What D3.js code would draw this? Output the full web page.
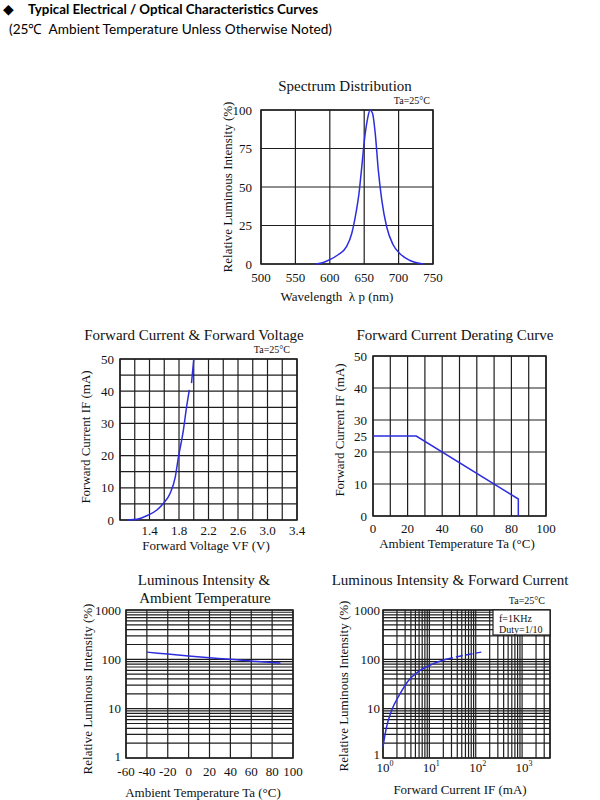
<!DOCTYPE html>
<html><head><meta charset="utf-8">
<script src="https://cdn.jsdelivr.net/npm/d3@7"></script>
<style>body{margin:0;background:#fff}svg{display:block}</style>
</head><body>
<script>
// ---------- DATA ----------
const spectrumWavelength = [580, 590.6, 600, 612, 624.5, 632, 638, 642.5, 646, 651, 655, 658.5, 662, 666, 670.5, 675.5, 682.7, 692, 702, 716.6, 736];
const spectrumIntensity  = [0, 1, 2.8, 6, 11.4, 20, 33, 46, 61, 83, 94.6, 100, 98, 85, 61, 41.7, 24, 12.5, 6.7, 2.3, 0];
const spectrumXTicks = [500, 550, 600, 650, 700, 750];
const spectrumYTicks = [0, 25, 50, 75, 100];

const ifvVoltage = [1.11, 1.23, 1.38, 1.50, 1.59, 1.68, 1.75, 1.79, 1.86, 1.90, 1.94, 1.96, 1.97, 2.00];
const ifvCurrent = [0, 0.2, 1.5, 3.1, 5.2, 8.3, 13.4, 19.2, 28, 34.7, 40.4, null, 42.5, 50];
const ifvXTicks = [1.4, 1.8, 2.2, 2.6, 3.0, 3.4];
const ifvYTicks = [0, 10, 20, 30, 40, 50];

const deratingTemp = [0, 25, 84, 84];
const deratingCurrent = [25, 25, 5.3, 0];
const deratingXTicks = [0, 20, 40, 60, 80, 100];
const deratingYTicks = [0, 10, 20, 25, 30, 40, 50];

const litTemp = [-40, -20, 0, 20, 40, 60, 80, 88];
const litIntensity = [140, 128, 117, 108, 100, 92, 86, 84];
const litXTicks = [-60, -40, -20, 0, 20, 40, 60, 80, 100];
const logYTicks = [1, 10, 100, 1000];

const lifCurrentSolid = [1, 1.18, 1.51, 2.29, 3.46, 6.2, 12, 23];
const lifIntensitySolid = [1.7, 4.07, 8.9, 19.4, 36, 59, 81, 100];
const lifCurrentDashed = [23, 45, 132];
const lifIntensityDashed = [100, 116, 140];
const lifXTickExp = [0, 1, 2, 3];

// ---------- STYLE ----------
const SERIF = "'Liberation Serif','Times New Roman',serif";
const BLUE = "#2d2de0";
const GRID = "#1e1e1e";
const NB = "\u00a0";

const svg = d3.select("body").append("svg").attr("width", 600).attr("height", 800);

// header
svg.append("text").attr("x", 3).attr("y", 14).attr("font-family", "DejaVu Sans").attr("font-size", 14).text("◆");
svg.append("text").attr("x", 28).attr("y", 14).attr("font-family", "Lato").attr("font-weight", "bold")
  .attr("font-size", 13.5).attr("textLength", 290).attr("lengthAdjust", "spacingAndGlyphs")
  .text("Typical Electrical / Optical Characteristics Curves");
svg.append("text").attr("x", 9).attr("y", 34).attr("font-family", "Lato")
  .attr("font-size", 14).attr("textLength", 323).attr("lengthAdjust", "spacingAndGlyphs")
  .text("(25℃" + NB + NB + "Ambient Temperature Unless Otherwise Noted)");

function txt(x, y, s, size, anchor) {
  return svg.append("text").attr("x", x).attr("y", y).attr("font-family", SERIF)
    .attr("font-size", size).attr("text-anchor", anchor || "middle")
    .attr("dominant-baseline", "central").attr("fill", "#111").text(s);
}
function ylabel(x, y, s) {
  svg.append("text").attr("transform", `translate(${x},${y}) rotate(-90)`)
    .attr("font-family", SERIF).attr("font-size", 13).attr("text-anchor", "middle")
    .attr("dominant-baseline", "central").attr("fill", "#111").text(s);
}
function gridLines(g, xs, ys, xScale, yScale, x0, x1, y0, y1) {
  g.selectAll(null).data(xs).enter().append("line")
    .attr("x1", d => xScale(d)).attr("x2", d => xScale(d)).attr("y1", y0).attr("y2", y1)
    .attr("stroke", GRID).attr("stroke-width", 1.2);
  g.selectAll(null).data(ys).enter().append("line")
    .attr("y1", d => yScale(d)).attr("y2", d => yScale(d)).attr("x1", x0).attr("x2", x1)
    .attr("stroke", GRID).attr("stroke-width", 1.2);
  g.append("rect").attr("x", x0).attr("y", y0).attr("width", x1 - x0).attr("height", y1 - y0)
    .attr("fill", "none").attr("stroke", GRID).attr("stroke-width", 1.5);
}
function xTickLabels(vals, scale, y, fmt) {
  vals.forEach(v => txt(scale(v), y, fmt ? fmt(v) : v, 13));
}
function yTickLabels(vals, scale, x, dy) {
  vals.forEach(v => txt(x, scale(v) + (dy ? dy(v) : 0), v, 13, "end"));
}
function logGrid(domainMax) {
  const out = [];
  for (let e = 0; e < 4; e++) for (let m = 1; m <= 9; m++) {
    const v = m * Math.pow(10, e);
    if (v <= domainMax) out.push(v);
  }
  return out;
}

// ---------- 1. Spectrum ----------
{
  const x = d3.scaleLinear().domain([500, 750]).range([261, 433]);
  const y = d3.scaleLinear().domain([0, 100]).range([264, 110]);
  const g = svg.append("g");
  gridLines(g, spectrumXTicks, spectrumYTicks, x, y, 261, 433, 110, 264);
  const pts = spectrumWavelength.map((w, i) => [w, spectrumIntensity[i]]);
  g.append("path").datum(pts).attr("fill", "none").attr("stroke", BLUE).attr("stroke-width", 1.5)
    .attr("d", d3.line().x(d => x(d[0])).y(d => y(d[1])).curve(d3.curveMonotoneX));
  xTickLabels(spectrumXTicks, x, 277);
  yTickLabels(spectrumYTicks, y, 252);
  txt(345, 86, "Spectrum Distribution", 15);
  txt(430, 100, "Ta=25°C", 10, "end");
  txt(337, 296, "Wavelength" + NB + NB + "λ p (nm)", 13);
  ylabel(227, 187, "Relative Luminous Intensity (%)");
}

// ---------- 2. Forward current vs forward voltage ----------
{
  const x = d3.scaleLinear().domain([1.0, 3.4]).range([120, 297]);
  const y = d3.scaleLinear().domain([0, 50]).range([520, 359]);
  const g = svg.append("g");
  gridLines(g, d3.range(1.0, 3.41, 0.2), d3.range(0, 51, 5), x, y, 120, 297, 359, 520);
  const pts = ifvVoltage.map((v, i) => [v, ifvCurrent[i]]);
  g.append("path").datum(pts).attr("fill", "none").attr("stroke", BLUE).attr("stroke-width", 1.5)
    .attr("d", d3.line().defined(d => d[1] !== null).x(d => x(d[0])).y(d => y(d[1])).curve(d3.curveMonotoneX));
  xTickLabels(ifvXTicks, x, 530, v => v.toFixed(1));
  yTickLabels(ifvYTicks, y, 114);
  txt(194, 335, "Forward Current & Forward Voltage", 15);
  txt(290, 349, "Ta=25°C", 10, "end");
  txt(206, 545, "Forward Voltage VF (V)", 13);
  ylabel(85, 437, "Forward Current IF (mA)");
}

// ---------- 3. Derating ----------
{
  const x = d3.scaleLinear().domain([0, 100]).range([373, 546]);
  const y = d3.scaleLinear().domain([0, 50]).range([516, 356]);
  const g = svg.append("g");
  gridLines(g, d3.range(0, 101, 10), d3.range(0, 51, 10), x, y, 373, 546, 356, 516);
  const pts = deratingTemp.map((t, i) => [t, deratingCurrent[i]]);
  g.append("path").datum(pts).attr("fill", "none").attr("stroke", BLUE).attr("stroke-width", 1.5)
    .attr("d", d3.line().x(d => x(d[0])).y(d => y(d[1])));
  xTickLabels(deratingXTicks, x, 528);
  yTickLabels(deratingYTicks, y, 367);
  txt(455, 335, "Forward Current Derating Curve", 15);
  txt(457, 543, "Ambient Temperature Ta (°C)", 13);
  ylabel(339, 430, "Forward Current IF (mA)");
}

// ---------- 4. Luminous intensity vs ambient temperature ----------
{
  const x = d3.scaleLinear().domain([-60, 100]).range([126, 293]);
  const y = d3.scaleLog().domain([1, 1000]).range([758, 610]);
  const g = svg.append("g");
  gridLines(g, litXTicks, logGrid(1000), x, y, 126, 293, 610, 758);
  const pts = litTemp.map((t, i) => [t, litIntensity[i]]);
  g.append("path").datum(pts).attr("fill", "none").attr("stroke", BLUE).attr("stroke-width", 1.5)
    .attr("d", d3.line().x(d => x(d[0])).y(d => y(d[1])).curve(d3.curveMonotoneX));
  xTickLabels(litXTicks, x, 771);
  yTickLabels(logYTicks, y, 121, v => v === 1 ? -2 : 0);
  txt(204, 580, "Luminous Intensity &", 15);
  txt(205, 598, "Ambient Temperature", 15);
  txt(203, 792, "Ambient Temperature Ta (°C)", 13);
  ylabel(87, 689, "Relative Luminous Intensity (%)");
}

// ---------- 5. Luminous intensity vs forward current ----------
{
  const x = d3.scaleLog().domain([1, 4000]).range([383, 550]);
  const y = d3.scaleLog().domain([1, 1000]).range([758, 610]);
  const g = svg.append("g");
  gridLines(g, logGrid(4000), logGrid(1000), x, y, 383, 550, 610, 758);
  const solid = lifCurrentSolid.map((c, i) => [c, lifIntensitySolid[i]]);
  const dashed = lifCurrentDashed.map((c, i) => [c, lifIntensityDashed[i]]);
  const ln = d3.line().x(d => x(d[0])).y(d => y(d[1])).curve(d3.curveMonotoneX);
  g.append("path").datum(solid).attr("fill", "none").attr("stroke", BLUE).attr("stroke-width", 1.5).attr("d", ln);
  g.append("path").datum(dashed).attr("fill", "none").attr("stroke", BLUE).attr("stroke-width", 1.5)
    .attr("stroke-dasharray", "7,3").attr("d", ln);
  // legend box
  g.append("rect").attr("x", 493).attr("y", 610).attr("width", 57).attr("height", 25)
    .attr("fill", "#fff").attr("stroke", GRID).attr("stroke-width", 1.2);
  txt(499, 618, "f=1KHz", 10, "start");
  txt(499, 629, "Duty=1/10", 10, "start");
  lifXTickExp.forEach(e => {
    const t = svg.append("text").attr("x", x(Math.pow(10, e)) + 2).attr("y", 772)
      .attr("font-family", SERIF).attr("font-size", 13).attr("text-anchor", "middle").attr("fill", "#111");
    t.append("tspan").text("10");
    t.append("tspan").attr("font-size", 8).attr("dy", -6).text(e);
  });
  yTickLabels(logYTicks, y, 380, v => v === 1 ? -4 : 0);
  txt(450, 580, "Luminous Intensity & Forward Current", 15);
  txt(545, 600, "Ta=25°C", 10, "end");
  txt(460, 789, "Forward Current IF (mA)", 13);
  ylabel(343, 686, "Relative Luminous Intensity (%)");
}
</script>
</body></html>
